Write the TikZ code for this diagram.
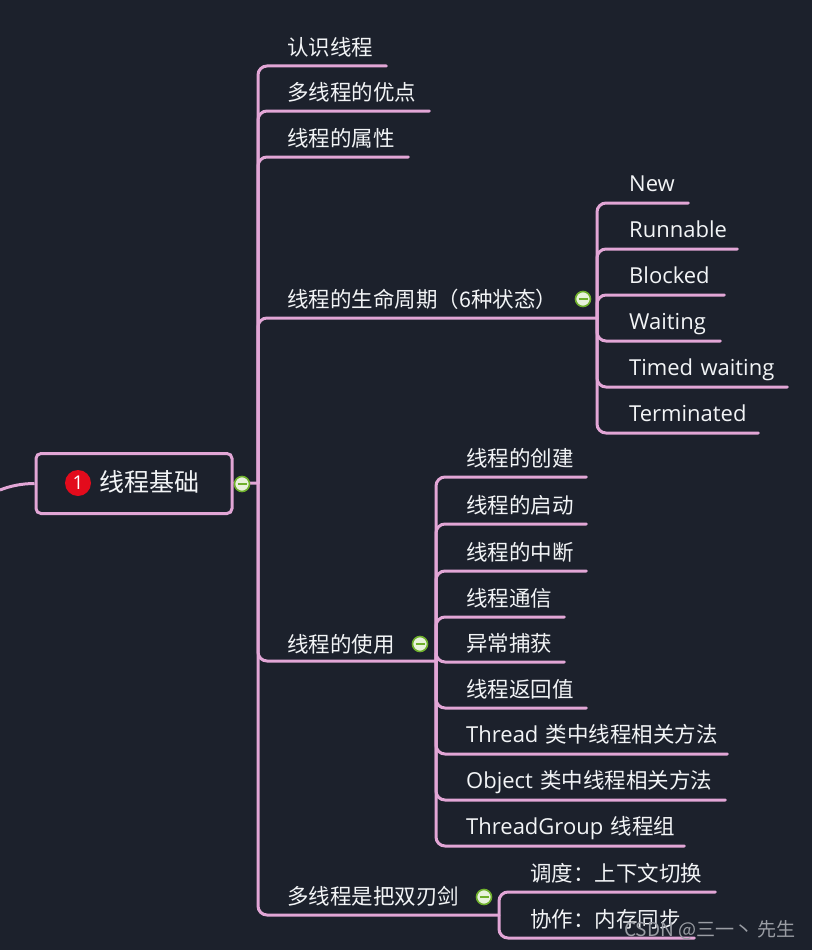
\documentclass[tikz,border=0pt]{standalone}
\usepackage{fontspec}
\setmainfont{Open Sans}
\newfontfamily\cjk[Scale=0.977]{Noto Sans CJK SC}
\definecolor{bgc}{HTML}{1C212C}
\definecolor{linec}{HTML}{E2A6D6}
\definecolor{txtc}{HTML}{F2F4F6}
\definecolor{minusg}{HTML}{6FB02C}
\definecolor{minusf}{HTML}{E8F2DC}
\definecolor{redc}{HTML}{E30B1C}
\definecolor{markc}{HTML}{9A9DA4}
\tikzset{
  topic/.style={anchor=south west,xshift=-1pt,inner sep=0pt,text height=20pt,text depth=11pt,align=left,text=txtc,font=\fontsize{22}{24}\selectfont},
  cjktopic/.style={topic,text depth=10pt},
  branch/.style={draw=linec,line width=3pt,rounded corners=9pt,line cap=round},
  fold/.style={circle,draw=minusg,line width=1.6pt,fill=minusf,minimum size=15pt,inner sep=0pt,
    path picture={\draw[minusg,line width=1.6pt] ([xshift=-4.5pt]path picture bounding box.center) -- ([xshift=4.5pt]path picture bounding box.center);}},
}
\begin{document}
\begin{tikzpicture}[x=1pt,y=-1pt]
\useasboundingbox (0,0) rectangle (812,950);
\fill[bgc] (0,0) rectangle (812,950);
% hubs
\coordinate (hubA) at (258,483);
\coordinate (hubB) at (597,318);
\coordinate (hubC) at (436,661);
\coordinate (hubD) at (499,915);
\coordinate (edge) at (0,490);
% root
\node[draw=linec,line width=3pt,rounded corners=5pt,minimum width=196pt,minimum height=60pt,inner sep=0pt] (root) at (134,483.5) {};
\node[circle,fill=redc,minimum size=26pt,inner sep=0pt,text=white,font=\fontsize{19}{20}\selectfont] (badge) at (78,483) {1};
\node[anchor=west,inner sep=0pt,text=txtc,font=\cjk\fontsize{25.6}{28}\selectfont] (rootlabel) at (99,482) {线程基础};
\draw[linec,line width=3pt] (edge) .. controls (10,486) and (22,483.5) .. (root.west);
\draw[linec,line width=3pt] (root.east) -- (hubA);
% level one
\node[cjktopic,text width=99pt] (a1) at (288,66) {\cjk 认识线程};
\node[cjktopic,text width=142pt] (a2) at (288,111) {\cjk 多线程的优点};
\node[cjktopic,text width=121pt] (a3) at (288,157) {\cjk 线程的属性};
\node[cjktopic,text width=309pt] (a4) at (288,318) {\cjk 线程的生命周期（6种状态）};
\node[cjktopic,text width=148pt,text depth=8pt] (a5) at (288,661) {\cjk 线程的使用};
\node[cjktopic,text width=211pt] (a6) at (288,915) {\cjk 多线程是把双刃剑};
\foreach \n in {a1,a2,a3,a4,a5,a6} \draw[branch] (hubA) |- (\n.south east);
% level two: states
\node[topic,text width=59pt] (b1) at (630,203) {New};
\node[topic,text width=108pt] (b2) at (630,249) {Runnable};
\node[topic,text width=95pt] (b3) at (630,295) {Blocked};
\node[topic,text width=91pt] (b4) at (630,341) {Waiting};
\node[topic,text width=158pt] (b5) at (630,387) {Timed waiting};
\node[topic,text width=129pt] (b6) at (630,433) {Terminated};
\foreach \n in {b1,b2,b3,b4,b5,b6} \draw[branch] (hubB) |- (\n.south east);
% level two: usage
\node[cjktopic,text width=120pt] (c1) at (467,477) {\cjk 线程的创建};
\node[cjktopic,text width=120pt] (c2) at (467,524) {\cjk 线程的启动};
\node[cjktopic,text width=120pt] (c3) at (467,571) {\cjk 线程的中断};
\node[cjktopic,text width=98pt] (c4) at (467,617) {\cjk 线程通信};
\node[cjktopic,text width=98pt] (c5) at (467,662) {\cjk 异常捕获};
\node[cjktopic,text width=120pt] (c6) at (467,708) {\cjk 线程返回值};
\node[topic,text width=261pt] (c7) at (467,754) {Thread {\cjk 类中线程相关方法}};
\node[topic,text width=259pt] (c8) at (467,800) {Object {\cjk 类中线程相关方法}};
\node[topic,text width=218pt] (c9) at (467,846) {ThreadGroup {\cjk 线程组}};
\foreach \n in {c1,c2,c3,c4,c5,c6,c7,c8,c9} \draw[branch] (hubC) |- (\n.south east);
% level two: double edge
\node[cjktopic,text width=185pt] (d1) at (531,892) {\cjk 调度：上下文切换};
\node[cjktopic,text width=164pt] (d2) at (531,938) {\cjk 协作：内存同步};
\foreach \n in {d1,d2} \draw[branch] (hubD) |- (\n.south east);
% fold marks
\node[fold] (fa) at (242,484) {};
\node[fold] (fb) at (583,299) {};
\node[fold] (fc) at (420,644) {};
\node[fold] (fd) at (484,897) {};
% watermark
\node[anchor=east,inner sep=0pt,text=markc,font=\cjk\fontsize{19.5}{21}\selectfont] (mark) at (796,930) {CSDN @三一丶 先生};
\end{tikzpicture}
\end{document}
